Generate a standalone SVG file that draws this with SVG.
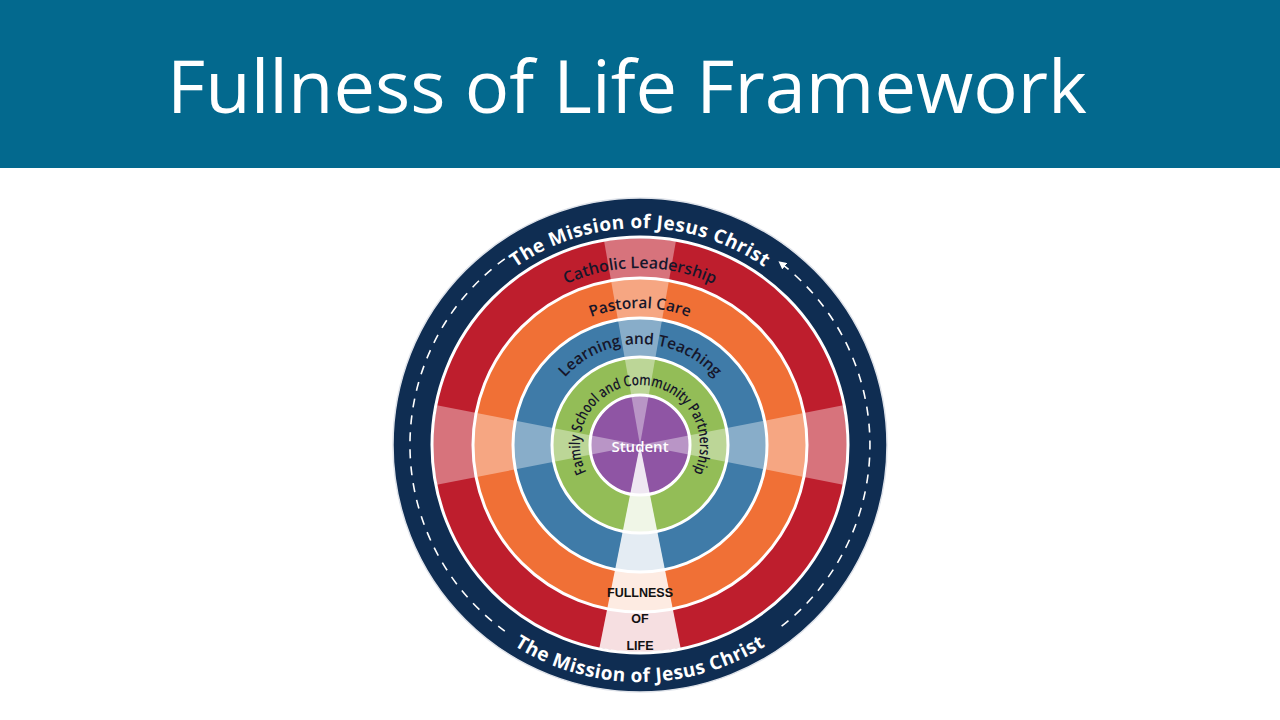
<svg xmlns="http://www.w3.org/2000/svg" width="1280" height="720" viewBox="0 0 1280 720">
<style>
.ring{font-family:"Open Sans","Noto Sans",sans-serif;fill:#16162a;font-weight:600;}
.mis{font-family:"Open Sans","Noto Sans",sans-serif;font-weight:bold;fill:#fff;font-size:19px;}
.sep{fill:none;stroke:#fff;stroke-width:3;}
.fol{font-family:"Liberation Sans",sans-serif;font-weight:bold;font-size:12.5px;fill:#111;text-anchor:middle;}
</style>
<defs>
<clipPath id="inner"><circle cx="640" cy="445" r="207"/></clipPath>
<marker id="arr" markerWidth="8" markerHeight="8" refX="4" refY="4" orient="auto" markerUnits="userSpaceOnUse"><path d="M0,0 L8,4 L0,8 z" fill="#fff"/></marker>
<path id="pTop" d="M423,445 A217,217 0 0 1 857,445"/>
<path id="pBot" d="M403,445 A237,237 0 0 0 877,445"/>
<path id="pCL" d="M463,445 A177,177 0 0 1 817,445"/>
<path id="pPC" d="M503,445 A137,137 0 0 1 777,445"/>
<path id="pLT" d="M539,445 A101,101 0 0 1 741,445"/>
<path id="pFS" d="M587,473.2 A60,60 0 1 1 693,473.2"/>
</defs>
<rect x="0" y="0" width="1280" height="168" fill="#03698e"/>
<text x="627" y="113" font-family="'Open Sans','Noto Sans',sans-serif" font-size="74" fill="#fff" text-anchor="middle">Fullness of Life Framework</text>
<g id="navy"><circle cx="640" cy="445" r="247" fill="#0f2d52" stroke="#dfe3ea" stroke-width="1.5"/></g>
<g id="rings">
<circle cx="640" cy="445" r="207" fill="#be1e2d"/>
<circle cx="640" cy="445" r="167" fill="#f07036"/>
<circle cx="640" cy="445" r="127" fill="#3f7ba8"/>
<circle cx="640" cy="445" r="88" fill="#93bd57"/>
<circle cx="640" cy="445" r="50" fill="#8f55a4"/>
</g>
<g id="wedges" clip-path="url(#inner)">
<polygon points="640,445 603,235 677,235" fill="#fff" opacity="0.38"/>
<polygon points="640,445 430,404 430,486" fill="#fff" opacity="0.38"/>
<polygon points="640,445 850,404 850,486" fill="#fff" opacity="0.38"/>
<polygon points="640,445 597,660 683,660" fill="#fff" opacity="0.86"/>
</g>
<g id="separators">
<circle class="sep" cx="640" cy="445" r="208"/>
<circle class="sep" cx="640" cy="445" r="167"/>
<circle class="sep" cx="640" cy="445" r="127"/>
<circle class="sep" cx="640" cy="445" r="88"/>
<circle class="sep" cx="640" cy="445" r="50"/>
</g>
<g id="connectors">
<path d="M781.6,626.2 A230,230 0 0 0 781.6,263.8" fill="none" stroke="#fff" stroke-width="1.6" stroke-dasharray="9 8" marker-end="url(#arr)"/>
<path d="M504.8,258.9 A230,230 0 0 0 504.8,631.1" fill="none" stroke="#fff" stroke-width="1.6" stroke-dasharray="9 8"/>
</g>
<g id="mission-top"><text class="mis" letter-spacing="0.5"><textPath href="#pTop" startOffset="50%" text-anchor="middle">The Mission of Jesus Christ</textPath></text></g>
<g id="mission-bottom"><text class="mis" letter-spacing="0.5"><textPath href="#pBot" startOffset="50%" text-anchor="middle">The Mission of Jesus Christ</textPath></text></g>
<g id="catholic"><text class="ring" font-size="16"><textPath href="#pCL" startOffset="50%" text-anchor="middle">Catholic Leadership</textPath></text></g>
<g id="pastoral"><text class="ring" font-size="15.5"><textPath href="#pPC" startOffset="50%" text-anchor="middle">Pastoral Care</textPath></text></g>
<g id="learning"><text class="ring" font-size="15.5"><textPath href="#pLT" startOffset="50%" text-anchor="middle">Learning and Teaching</textPath></text></g>
<g id="family"><text class="ring" font-size="15"><textPath href="#pFS" startOffset="50%" text-anchor="middle" textLength="244" lengthAdjust="spacingAndGlyphs">Family School and Community Partnership</textPath></text></g>
<g id="student"><text x="640" y="452" font-family="'Open Sans','Noto Sans',sans-serif" font-size="15" font-weight="600" fill="#fff" text-anchor="middle">Student</text></g>
<g id="fullness">
<text class="fol" x="640" y="597">FULLNESS</text>
<text class="fol" x="640" y="623">OF</text>
<text class="fol" x="640" y="650">LIFE</text>
</g>
</svg>
